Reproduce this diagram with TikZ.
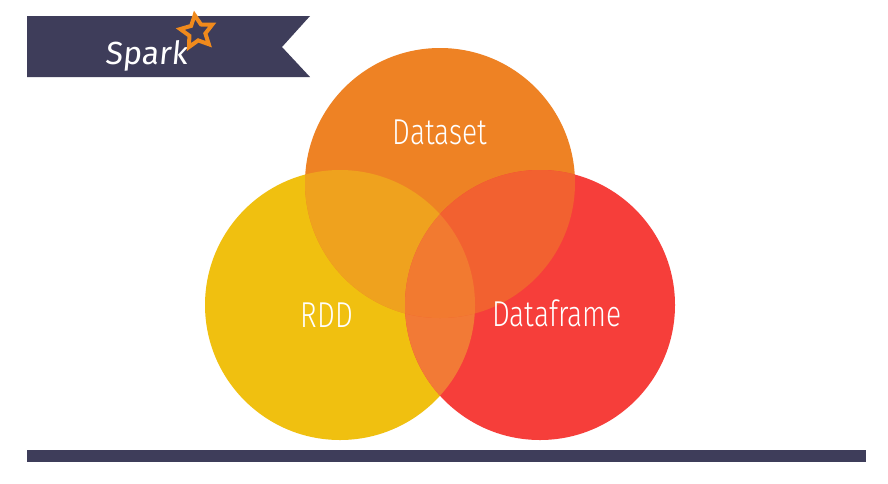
\documentclass[tikz,border=0pt]{standalone}
\usepackage{fontspec}
\setmainfont{Fira Sans Light}[FakeStretch=0.78]
\newfontfamily\logofont{Fira Sans}[FakeSlant=0.1]
\usetikzlibrary{shapes.geometric}
\definecolor{navy}{HTML}{3E3D5A}
\definecolor{cset}{HTML}{EE8224}
\definecolor{crdd}{HTML}{F0C010}
\definecolor{cdf}{HTML}{F63E3A}
\definecolor{csr}{HTML}{EFA21E}
\definecolor{csd}{HTML}{F26130}
\definecolor{crd}{HTML}{F27A36}
\definecolor{call}{HTML}{F27A30}
\definecolor{sorange}{HTML}{F08A1C}
\tikzset{x=1pt,y=-1pt,
 lbl/.style={text=white,font=\fontsize{36}{40}\selectfont}}
\begin{document}
\begin{tikzpicture}
\useasboundingbox (0,0) rectangle (888,483);
\fill[white] (0,0) rectangle (888,483);
\fill[navy] (27,16) -- (310,16) -- (282,47) -- (310,77) -- (27,77) -- cycle;
\node[text=white,font=\logofont\fontsize{32}{36}\selectfont] (spark) at (146,56) {Spark};
\node[star,star points=5,star point ratio=2.0,draw=sorange,line width=4pt,minimum size=34pt,inner sep=0pt,rotate=8] (star) at (197,32) {};
\def\cR{(340,305) circle (135)}
\def\cS{(440,183) circle (135)}
\def\cD{(540,305) circle (135)}
\fill[crdd] \cR;
\fill[cset] \cS;
\fill[cdf] \cD;
\begin{scope}\clip \cR; \fill[csr] \cS; \fill[crd] \cD; \end{scope}
\begin{scope}\clip \cS; \fill[csd] \cD; \end{scope}
\begin{scope}\clip \cR; \clip \cS; \fill[call] \cD; \end{scope}
\node[lbl] (dataset) at (440,132) {Dataset};
\node[lbl] (rdd) at (327,315) {RDD};
\node[lbl] (df) at (557,313) {Dataframe};
\fill[navy] (27,450) rectangle (866,462);
\end{tikzpicture}
\end{document}
